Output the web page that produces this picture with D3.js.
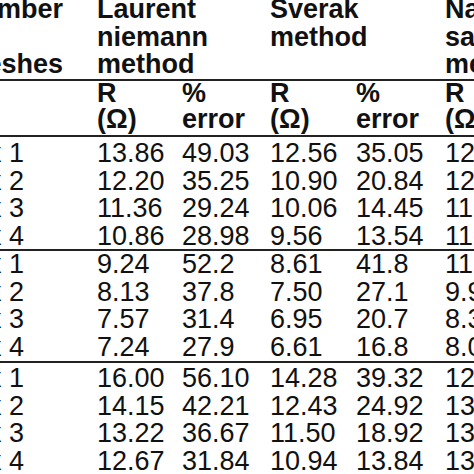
<!DOCTYPE html>
<html>
<head>
<meta charset="utf-8">
<script src="https://cdn.jsdelivr.net/npm/d3@7"></script>
<style>
body{margin:0;background:#fff;overflow:hidden;}
text{font-family:"Liberation Sans",Arial,sans-serif;font-size:27px;fill:#111;}
.hd{font-weight:bold;}
</style>
</head>
<body>
<svg id="svg1"></svg>
<script>
var methods = [["Laurent","niemann","method"],["Sverak","method",""],["Nahman","salama","method"]];
var firstHead = ["Number","","meshes"];
var subHead = [["R","(Ω)"],["%","error"]];
var meshes = ["x 1","x 2","x 3","x 4"];
var laurentR = [[13.86,12.20,11.36,10.86],[9.24,8.13,7.57,7.24],[16.00,14.15,13.22,12.67]];
var laurentErr = [["49.03","35.25","29.24","28.98"],["52.2","37.8","31.4","27.9"],["56.10","42.21","36.67","31.84"]];
var sverakR = [[12.56,10.90,10.06,9.56],[8.61,7.50,6.95,6.61],[14.28,12.43,11.50,10.94]];
var sverakErr = [["35.05","20.84","14.45","13.54"],["41.8","27.1","20.7","16.8"],["39.32","24.92","18.92","13.84"]];
var nahmanR = [["12.9","12.1","11.5","11.2"],["11.2","9.91","8.35","8.04"],["12.8","13.1","13.3","13.4"]];

var drawTable = function(width,height,idName){
  var svg = d3.select(idName).attr("width",width).attr("height",height);

  var xCol = d3.scaleOrdinal().domain([0,1,2,3,4]).range([97,182,270,356,445]);
  var yHead = d3.scaleLinear().domain([0,2]).range([18,73]);
  var ySub = d3.scaleLinear().domain([0,1]).range([102,128]);
  var groupTop = [162,273,387];
  var yRow = d3.scaleLinear().domain([0,3]).range([0,83]);
  var rules = [80,136,250,362];

  // column 1 header
  svg.selectAll("text.first").data(firstHead).enter().append("text")
     .attr("class","hd first").attr("x",63).attr("y",function(d,i){return yHead(i)})
     .attr("text-anchor","end").text(function(d){return d});

  methods.forEach(function(m,j){
    svg.selectAll("text.m"+j).data(m).enter().append("text")
       .attr("class","hd m"+j).attr("x",xCol(j*2)).attr("y",function(d,i){return yHead(i)})
       .text(function(d){return d});
  });

  [0,1,2,3,4].forEach(function(c){
    var s = subHead[c%2];
    svg.selectAll("text.s"+c).data(s).enter().append("text")
       .attr("class","hd s"+c).attr("x",xCol(c)).attr("y",function(d,i){return ySub(i)})
       .text(function(d){return d});
  });

  svg.selectAll("line").data(rules).enter().append("line")
     .attr("x1",0).attr("x2",width).attr("y1",function(d){return d}).attr("y2",function(d){return d})
     .attr("stroke","#222").attr("stroke-width",2);

  var cols = [
    function(g){return laurentR[g].map(function(v){return v.toFixed(2)})},
    function(g){return laurentErr[g]},
    function(g){return sverakR[g].map(function(v){return v.toFixed(2)})},
    function(g){return sverakErr[g]},
    function(g){return nahmanR[g]}
  ];

  groupTop.forEach(function(top,g){
    var grp = svg.append("g").attr("transform","translate(0,"+top+")");
    grp.selectAll("text.mesh").data(meshes).enter().append("text")
       .attr("class","mesh").attr("x",24).attr("text-anchor","end")
       .attr("y",function(d,i){return yRow(i)}).text(function(d){return d});
    cols.forEach(function(f,c){
      grp.selectAll("text.c"+c).data(f(g)).enter().append("text")
         .attr("class","c"+c).attr("x",xCol(c))
         .attr("y",function(d,i){return yRow(i)}).text(function(d){return d});
    });
  });
}

drawTable(474,474,"#svg1");
</script>
</body>
</html>
